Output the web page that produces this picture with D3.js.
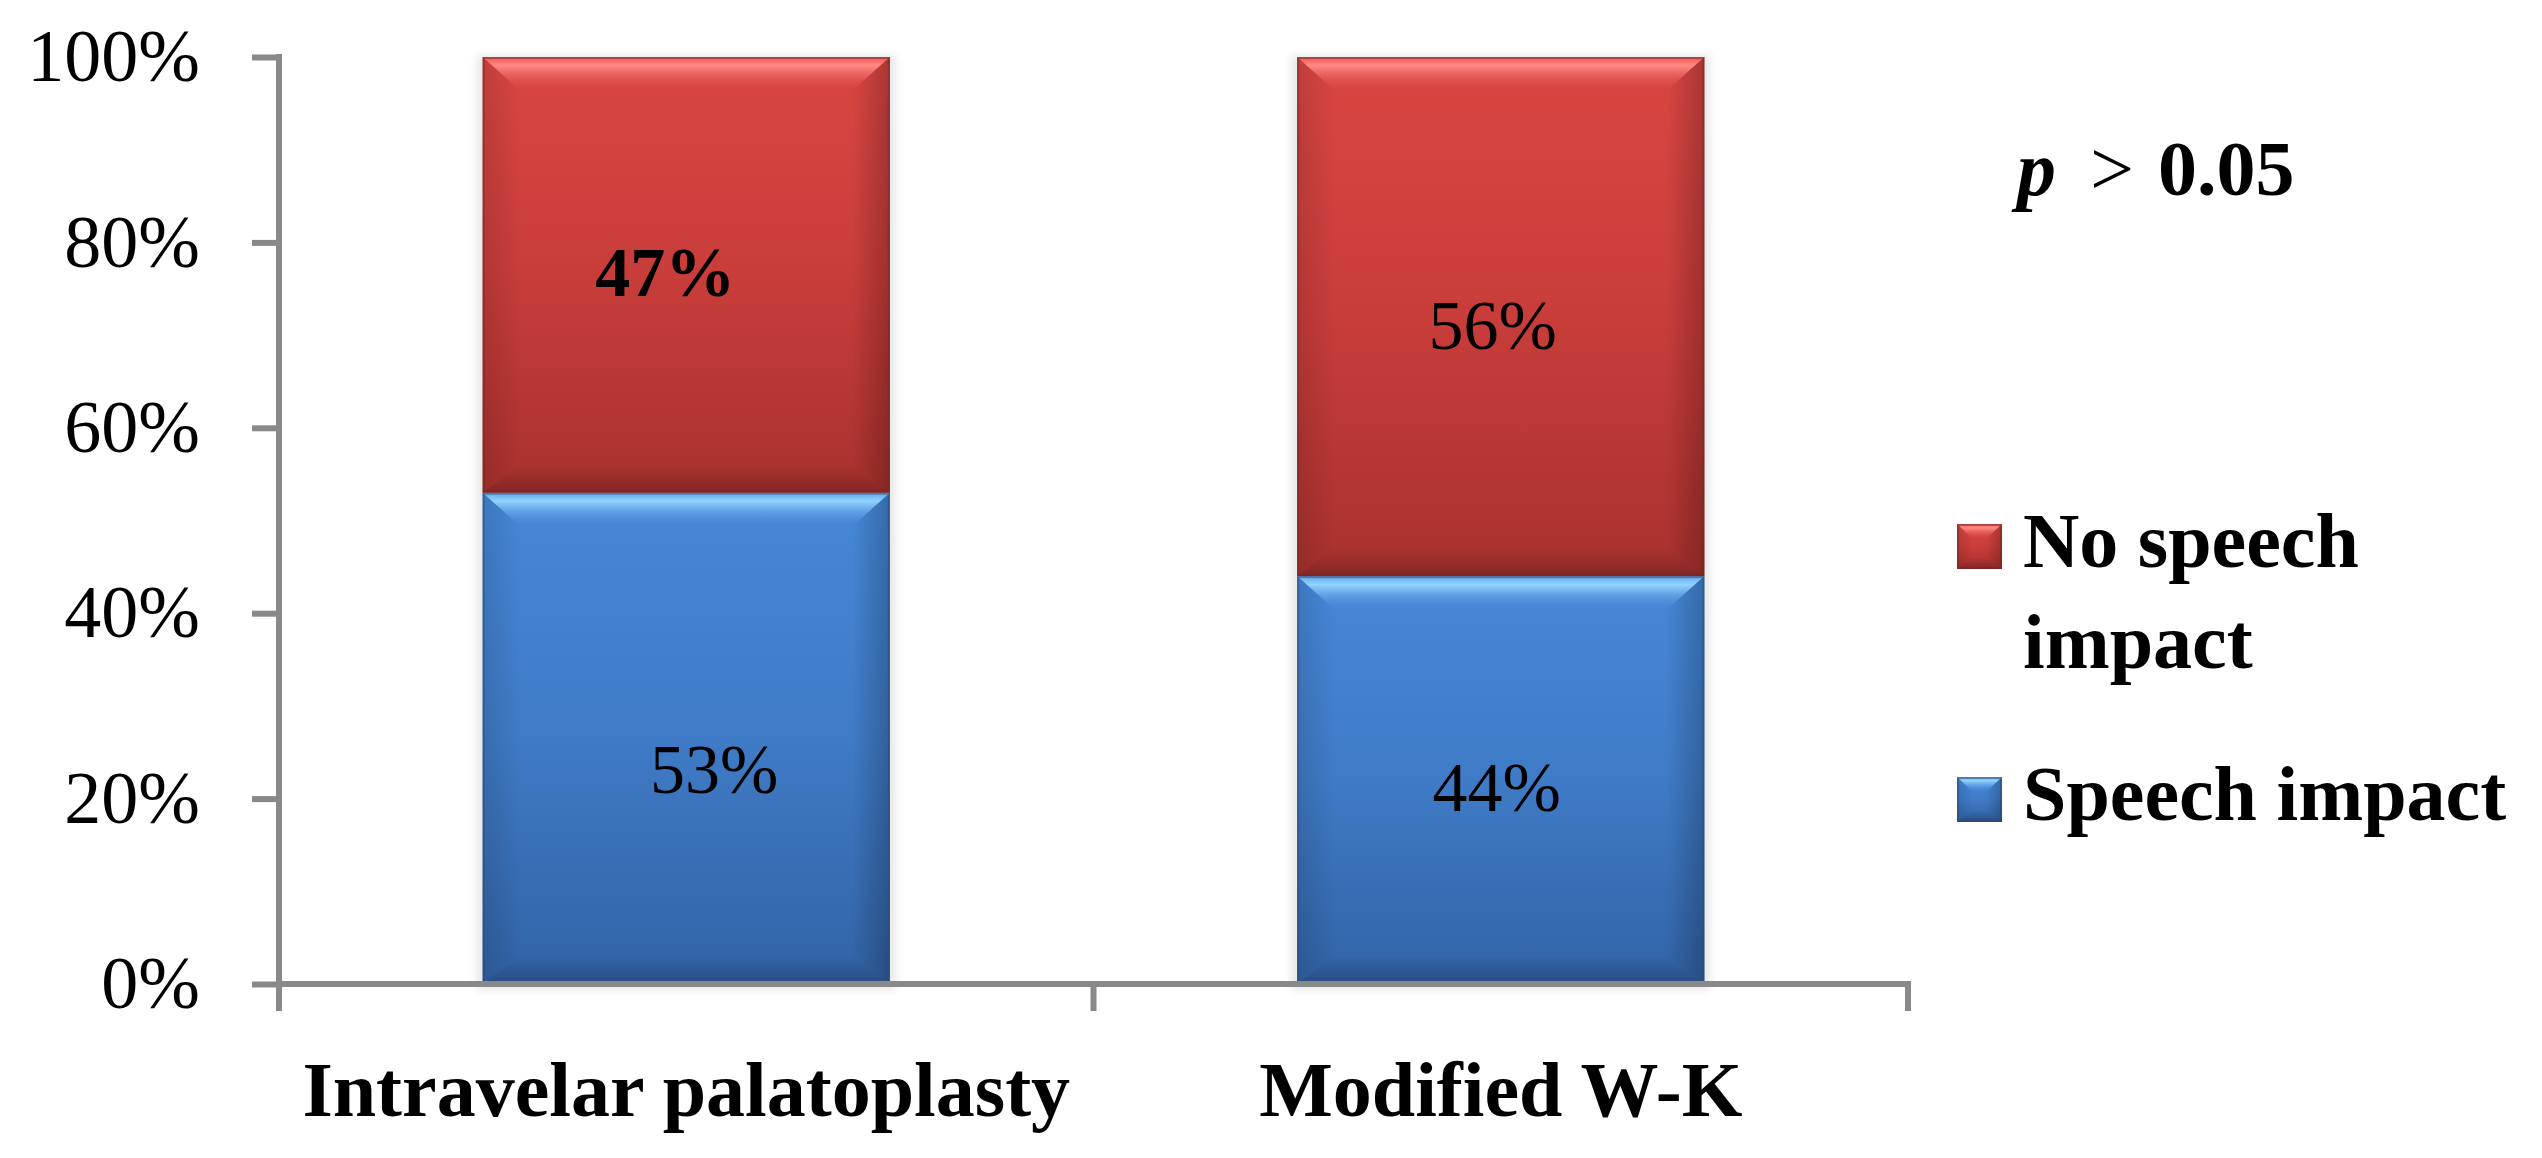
<!DOCTYPE html>
<html>
<head>
<meta charset="utf-8">
<script src="https://cdn.jsdelivr.net/npm/d3@7"></script>
<style>
  body { margin: 0; background: #fff; }
  text { font-family: "Liberation Serif", "Times New Roman", serif; fill: #000; }
</style>
</head>
<body>
<div class="visHolder"></div>
<script>
// chart data
var categories = ["Intravelar palatoplasty", "Modified W-K"];
var seriesNames = ["Speech impact", "No speech impact"];
var speechImpact = [0.53, 0.44];
var noSpeechImpact = [0.47, 0.56];
var yTicks = [0, 0.2, 0.4, 0.6, 0.8, 1];
var pLabel = ["p", ">", "0.05"];

// label styling (not data): which labels are bold, small manual nudges like the original
var labelBold = [[false, true], [false, false]];
var labelNudge = [[[28, 30], [-21, -3]], [[-4, 6], [-8, 8]]];

var W = 2542, H = 1158;
var svg = d3.select(".visHolder").append("svg")
    .attr("width", W)
    .attr("height", H);

svg.append("rect").attr("width", W).attr("height", H).attr("fill", "#fff");

var defs = svg.append("defs");

function grad(id, x2, y2, stops) {
    var g = defs.append("linearGradient").attr("id", id)
        .attr("x1", 0).attr("y1", 0).attr("x2", x2).attr("y2", y2);
    stops.forEach(s => g.append("stop").attr("offset", s[0]).attr("stop-color", s[1]).attr("stop-opacity", s[2] == null ? 1 : s[2]));
}
grad("redBody", 0, 1, [[0, "#da4642"], [0.5, "#c83d3a"], [1, "#a8312e"]]);
grad("blueBody", 0, 1, [[0, "#4688d8"], [0.5, "#3f7bc6"], [1, "#3262a5"]]);
grad("topHiRed", 0, 1, [[0, "#f2544f"], [0.25, "#ff8a85"], [1, "#da4642", 0]]);
grad("topHiBlue", 0, 1, [[0, "#5fa8ec"], [0.25, "#93d3ff"], [1, "#4688d8", 0]]);
grad("bottomShade", 0, 1, [[0, "#000", 0], [1, "#000", 0.22]]);
grad("rightShade", 1, 0, [[0, "#000", 0], [1, "#000", 0.22]]);
grad("leftShade", 1, 0, [[0, "#000", 0.12], [1, "#000", 0]]);

var shadow = defs.append("filter").attr("id", "shadow")
    .attr("x", "-10%").attr("y", "-10%").attr("width", "120%").attr("height", "120%");
shadow.append("feGaussianBlur").attr("stdDeviation", 4);

var colors = {
    "No speech impact": { body: "url(#redBody)", hi: "url(#topHiRed)", edge: "#6e2a28" },
    "Speech impact": { body: "url(#blueBody)", hi: "url(#topHiBlue)", edge: "#2a4a78" }
};

// scales
var y = d3.scaleLinear().domain([0, 1]).range([984, 57]);
var x = d3.scaleBand().domain(categories).range([279, 1908])
    .paddingInner(0.5).paddingOuter(0.25);

var axisColor = "#898989";

// beveled rectangle like the office "bevel" effect
function bevelRect(g, x0, y0, w, h, c, b, bt, bb) {
    g.append("rect").attr("x", x0).attr("y", y0).attr("width", w).attr("height", h)
        .attr("fill", c.body);
    // top bevel
    g.append("path")
        .attr("d", `M${x0},${y0}L${x0 + w},${y0}L${x0 + w - b},${y0 + bt}L${x0 + b},${y0 + bt}Z`)
        .attr("fill", c.hi);
    // bottom bevel
    g.append("path")
        .attr("d", `M${x0},${y0 + h}L${x0 + w},${y0 + h}L${x0 + w - b},${y0 + h - bb}L${x0 + b},${y0 + h - bb}Z`)
        .attr("fill", "url(#bottomShade)");
    // left bevel
    g.append("path")
        .attr("d", `M${x0},${y0}L${x0 + b},${y0 + bt}L${x0 + b},${y0 + h - bb}L${x0},${y0 + h}Z`)
        .attr("fill", "url(#leftShade)");
    // right bevel
    g.append("path")
        .attr("d", `M${x0 + w},${y0}L${x0 + w - b},${y0 + bt}L${x0 + w - b},${y0 + h - bb}L${x0 + w},${y0 + h}Z`)
        .attr("fill", "url(#rightShade)");
    // thin outer edge
    g.append("rect").attr("x", x0 + 1).attr("y", y0 + 1).attr("width", w - 2).attr("height", h - 2)
        .attr("fill", "none").attr("stroke", c.edge).attr("stroke-opacity", 0.5).attr("stroke-width", 2);
}

// stacked data
var stackData = categories.map((cat, i) => ({
    cat: cat,
    "Speech impact": speechImpact[i],
    "No speech impact": noSpeechImpact[i]
}));
var stack = d3.stack().keys(seriesNames)(stackData);

// soft shadow behind bars
svg.append("g").selectAll("rect")
    .data(categories)
    .enter()
    .append("rect")
    .attr("x", d => x(d) - 6)
    .attr("y", y(1) - 2)
    .attr("width", x.bandwidth() + 12)
    .attr("height", y(0) - y(1) + 8)
    .attr("fill", "#000")
    .attr("opacity", 0.09)
    .attr("filter", "url(#shadow)");

var bars = svg.append("g");
stack.forEach((layer, si) => {
    layer.forEach((d, ci) => {
        var x0 = x(categories[ci]);
        var y0 = y(d[1]);
        var h = y(d[0]) - y(d[1]);
        bevelRect(bars, x0, y0, x.bandwidth(), h, colors[layer.key], 38, 34, 28);
    });
});

// value labels
stack.forEach((layer, si) => {
    layer.forEach((d, ci) => {
        var cx = x(categories[ci]) + x.bandwidth() / 2 + labelNudge[ci][si][0];
        var cy = (y(d[0]) + y(d[1])) / 2 + labelNudge[ci][si][1];
        svg.append("text")
            .attr("x", cx)
            .attr("y", cy)
            .attr("dy", "0.35em")
            .attr("text-anchor", "middle")
            .style("font-size", "70px")
            .style("font-weight", labelBold[ci][si] ? "bold" : "normal")
            .text(d3.format(".0%")(d[1] - d[0]));
    });
});

// y axis
var yAxis = svg.append("g")
    .attr("transform", "translate(279,0)")
    .call(d3.axisLeft(y)
        .tickValues(yTicks)
        .tickSize(27)
        .tickSizeOuter(0)
        .tickPadding(52)
        .tickFormat(d3.format(".0%")));
yAxis.select(".domain").remove();
yAxis.selectAll(".tick line").attr("stroke", axisColor).attr("stroke-width", 6);
yAxis.selectAll(".tick text")
    .attr("dy", "0.32em")
    .style("font-family", "'Liberation Serif', 'Times New Roman', serif")
    .style("font-size", "74px")
    .attr("fill", "#000");

svg.append("line")
    .attr("x1", 279).attr("x2", 279)
    .attr("y1", y(1) - 3).attr("y2", y(0) + 27)
    .attr("stroke", axisColor).attr("stroke-width", 6);

// x axis with ticks between categories
svg.append("line")
    .attr("x1", x.range()[0]).attr("x2", x.range()[1])
    .attr("y1", y(0)).attr("y2", y(0))
    .attr("stroke", axisColor).attr("stroke-width", 6);

var bounds = d3.range(categories.length + 1).map(i => x.range()[0] + i * x.step());
svg.append("g").selectAll("line")
    .data(bounds.slice(1))
    .enter()
    .append("line")
    .attr("x1", d => d).attr("x2", d => d)
    .attr("y1", y(0) - 3).attr("y2", y(0) + 27)
    .attr("stroke", axisColor).attr("stroke-width", 6);

svg.append("g").selectAll("text")
    .data(categories)
    .enter()
    .append("text")
    .attr("x", d => x(d) + x.bandwidth() / 2)
    .attr("y", 1116)
    .attr("text-anchor", "middle")
    .style("font-size", "78px")
    .style("font-weight", "bold")
    .text(d => d);

// legend
var legendItems = [
    { key: "No speech impact", lines: ["No speech", "impact"], top: 524 },
    { key: "Speech impact", lines: ["Speech impact"], top: 777 }
];
var legend = svg.append("g").attr("id", "legend");
legendItems.forEach(item => {
    bevelRect(legend, 1957, item.top, 45, 45, colors[item.key], 16, 15, 12);
    var t = legend.append("text")
        .attr("x", 2023)
        .attr("y", item.top + 43)
        .style("font-size", "78px")
        .style("font-weight", "bold");
    item.lines.forEach((ln, i) => {
        t.append("tspan").attr("x", 2023).attr("dy", i === 0 ? 0 : 101).text(ln);
    });
});

// p value note
var pt = svg.append("text").attr("y", 195).style("font-size", "78px");
pt.append("tspan").attr("x", 2017).style("font-weight", "bold").style("font-style", "italic").text(pLabel[0]);
pt.append("tspan").attr("x", 2090).text(pLabel[1]);
pt.append("tspan").attr("x", 2158).style("font-weight", "bold").text(pLabel[2]);
</script>
</body>
</html>
